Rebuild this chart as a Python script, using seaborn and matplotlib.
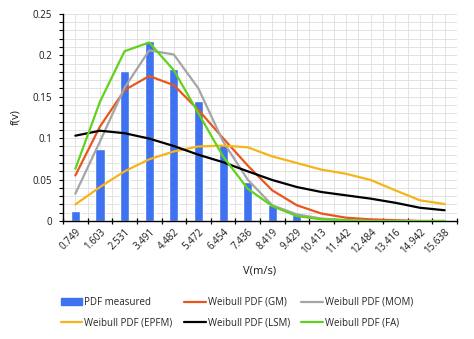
import numpy as np
import pandas as pd
import matplotlib
matplotlib.use("Agg")
import matplotlib.pyplot as plt
from matplotlib.patches import Patch
from matplotlib.lines import Line2D
from matplotlib.ticker import MultipleLocator, FixedLocator
import seaborn as sns

# Wind speed bins (m/s)
speeds = ["0.749", "1.603", "2.531", "3.491", "4.482", "5.472", "6.454", "7.436",
          "8.419", "9.429", "10.413", "11.442", "12.484", "13.416", "14.942", "15.638"]

pdf_measured = [0.012, 0.087, 0.181, 0.217, 0.184, 0.145, 0.093, 0.047,
                0.019, 0.007, 0.0, 0.0, 0.0, 0.0, 0.0, 0.0]
weibull_gm = [0.055, 0.114, 0.158, 0.175, 0.164, 0.134, 0.100, 0.067,
              0.037, 0.019, 0.009, 0.004, 0.002, 0.001, 0.0, 0.0]
weibull_mom = [0.033, 0.096, 0.161, 0.206, 0.201, 0.160, 0.096, 0.050,
               0.019, 0.008, 0.003, 0.001, 0.0, 0.0, 0.0, 0.0]
weibull_epfm = [0.020, 0.041, 0.060, 0.0745, 0.084, 0.090, 0.091, 0.089,
                0.078, 0.070, 0.062, 0.057, 0.0495, 0.037, 0.025, 0.0205]
weibull_lsm = [0.103, 0.109, 0.106, 0.0995, 0.0905, 0.080, 0.071, 0.060,
               0.0495, 0.041, 0.035, 0.031, 0.027, 0.022, 0.016, 0.013]
weibull_fa = [0.063, 0.144, 0.205, 0.2155, 0.182, 0.130, 0.078, 0.039,
              0.018, 0.006, 0.002, 0.001, 0.0, 0.0, 0.0, 0.0]

series = [
    ("Weibull PDF (GM)", weibull_gm, "#E9561D"),
    ("Weibull PDF (MOM)", weibull_mom, "#A5A5A5"),
    ("Weibull PDF (EPFM)", weibull_epfm, "#F7B416"),
    ("Weibull PDF (LSM)", weibull_lsm, "#000000"),
    ("Weibull PDF (FA)", weibull_fa, "#5FD31C"),
]
bar_color = "#3F72F0"

sns.set_theme(style="white")
plt.rcParams["font.family"] = ["Open Sans", "DejaVu Sans"]

fig = plt.figure(figsize=(4.74, 3.39), dpi=100)
ax = fig.add_axes([0.133, 0.348, 0.831, 0.611])

pos = np.arange(len(speeds))
df = pd.DataFrame({"pos": pos, "pdf": pdf_measured})
sns.barplot(data=df, x="pos", y="pdf", color=bar_color, width=0.37,
            saturation=1, ax=ax, native_scale=True, zorder=2)

for name, vals, col in series:
    sns.lineplot(x=pos, y=vals, color=col, linewidth=1.6, ax=ax, zorder=3)

ax.set_xlim(-0.5, len(speeds) - 0.5)
ax.set_ylim(0, 0.25)

# Category labels at centres, tick marks at bin boundaries
ax.xaxis.set_major_locator(FixedLocator(pos))
ax.set_xticklabels(speeds, rotation=45, ha="right", rotation_mode="anchor",
                   fontsize=7, color="#1A1A1A")
ax.xaxis.set_minor_locator(FixedLocator(np.arange(-0.5, len(speeds), 1.0)))
ax.tick_params(axis="x", which="major", length=0, pad=4)
ax.tick_params(axis="x", which="minor", length=4, width=0.9, color="black",
               direction="inout", bottom=True)

ax.yaxis.set_major_locator(MultipleLocator(0.05))
ax.yaxis.set_minor_locator(MultipleLocator(0.01))
ax.set_yticks([0, 0.05, 0.1, 0.15, 0.2, 0.25])
ax.set_yticklabels(["0", "0.05", "0.1", "0.15", "0.2", "0.25"],
                   fontsize=7, color="#1A1A1A")
ax.tick_params(axis="y", which="both", length=3, width=0.8, color="black",
               direction="out", left=True, pad=5)

ax.grid(which="both", color="#DEDEDE", linewidth=0.6, zorder=0)
ax.set_axisbelow(True)

for side in ["top", "right"]:
    ax.spines[side].set_visible(False)
for side in ["left", "bottom"]:
    ax.spines[side].set_color("black")
    ax.spines[side].set_linewidth(1.0)

ax.set_xlabel("V(m/s)", fontsize=8, color="#1A1A1A", labelpad=7)
ax.set_ylabel("f(v)", fontsize=8, color="#1A1A1A", labelpad=8)

handles = [Patch(color=bar_color, label="PDF measured")]
handles += [Line2D([0], [0], color=c, linewidth=1.6, label=n) for n, _, c in series]
# Fill order so rows read: PDF, GM, MOM / EPFM, LSM, FA
order = [0, 3, 1, 4, 2, 5]
fig.legend([handles[i] for i in order], [handles[i].get_label() for i in order],
           loc="center", bbox_to_anchor=(0.5, 0.078), ncol=3, frameon=False,
           fontsize=7, handlelength=2.2, handleheight=0.6, columnspacing=1.2,
           handletextpad=0.2, labelspacing=0.95)

fig.savefig("out.png", dpi=100)
